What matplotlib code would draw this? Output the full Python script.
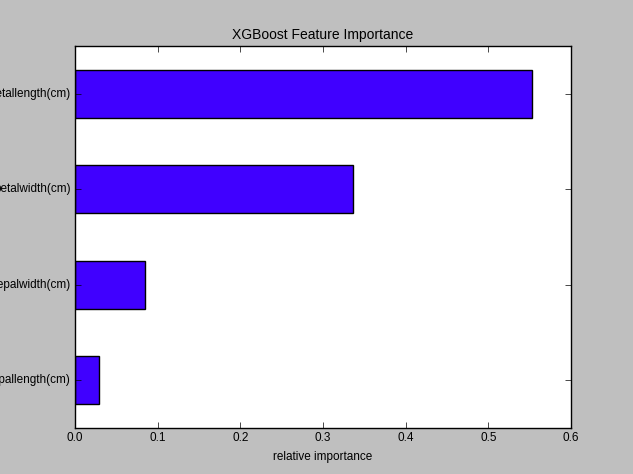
import matplotlib
matplotlib.use("Agg")
import matplotlib.pyplot as plt
import numpy as np

features = ["sepallength(cm)", "sepalwidth(cm)", "petalwidth(cm)", "petallength(cm)"]
importance = [0.029, 0.085, 0.336, 0.553]

plt.style.use("classic")
plt.rcParams["font.family"] = ["Liberation Sans", "DejaVu Sans"]
fig = plt.figure(figsize=(6.33, 4.74), dpi=100)
fig.patch.set_facecolor("#bfbfbf")
ax = fig.add_axes([75 / 633, 46 / 474, 496 / 633, 382 / 474])

pos = np.arange(len(features))
ax.barh(pos, importance, height=0.5, align="center", color="#4000ff", edgecolor="black")
ax.set_yticks(pos)
ax.set_yticklabels(features, fontsize=8.5)
ax.set_ylim(-0.5, len(features) - 0.5)
ax.set_xlim(0, 0.6)
ax.set_xticks(np.arange(0, 0.61, 0.1))
ax.tick_params(axis="both", labelsize=8.5, pad=3)
ax.set_xlabel("relative importance", fontsize=8.5)
ax.set_title("XGBoost Feature Importance", fontsize=10)

fig.savefig("out.png", dpi=100, facecolor=fig.get_facecolor())
